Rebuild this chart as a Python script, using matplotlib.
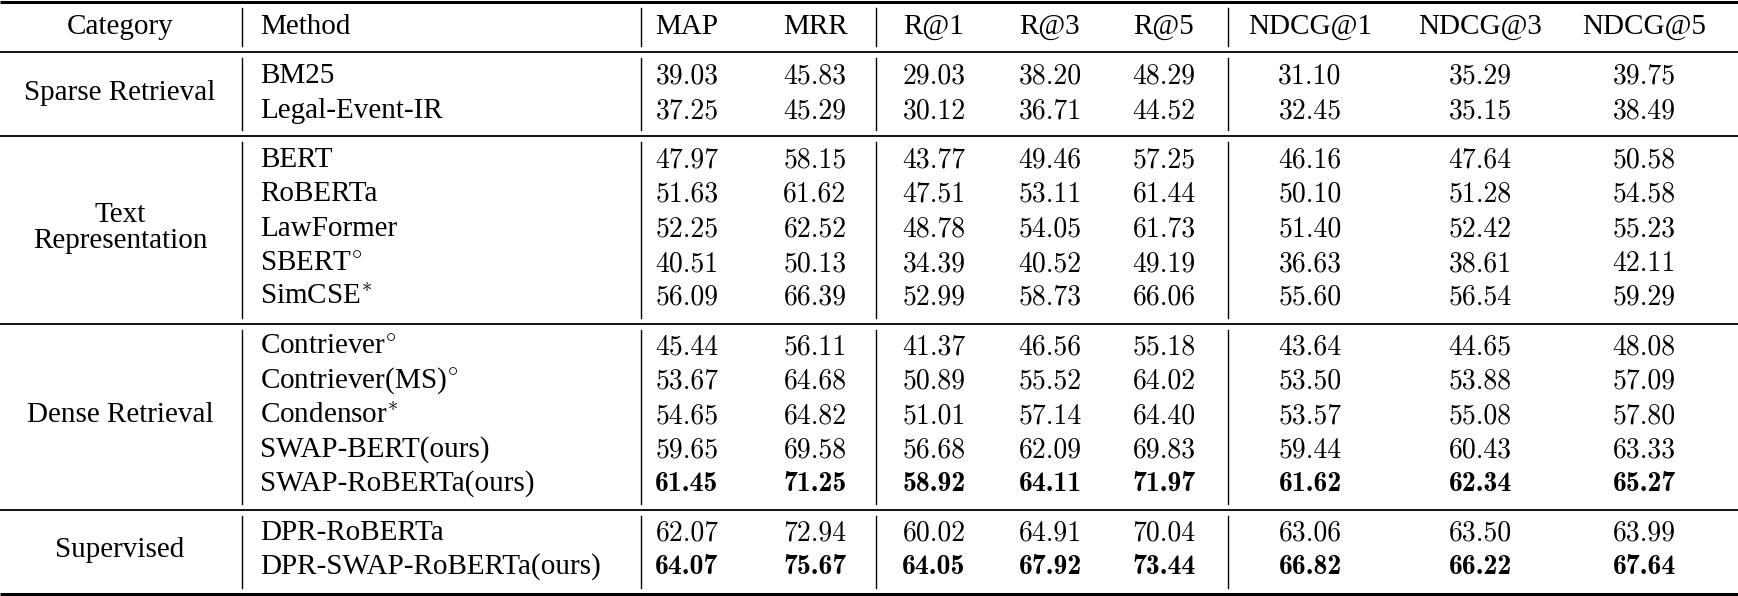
import matplotlib
matplotlib.use("Agg")
import matplotlib.pyplot as plt

plt.rcParams['mathtext.fontset'] = 'cm'
plt.rcParams['font.family'] = ['Liberation Serif', 'DejaVu Serif']

headers = ["MAP", "MRR", "R@1", "R@3", "R@5", "NDCG@1", "NDCG@3", "NDCG@5"]
categories = ["Sparse Retrieval", "Text\nRepresentation", "Dense Retrieval", "Supervised"]
group_sizes = [2, 5, 5, 2]
methods = ["BM25", "Legal-Event-IR", "BERT", "RoBERTa", "LawFormer", "SBERT$^{\\circ}$", "SimCSE$^{*}$",
           "Contriever$^{\\circ}$", "Contriever(MS)$^{\\circ}$", "Condensor$^{*}$", "SWAP-BERT(ours)",
           "SWAP-RoBERTa(ours)", "DPR-RoBERTa", "DPR-SWAP-RoBERTa(ours)"]
values = [
    [39.03, 45.83, 29.03, 38.20, 48.29, 31.10, 35.29, 39.75],
    [37.25, 45.29, 30.12, 36.71, 44.52, 32.45, 35.15, 38.49],
    [47.97, 58.15, 43.77, 49.46, 57.25, 46.16, 47.64, 50.58],
    [51.63, 61.62, 47.51, 53.11, 61.44, 50.10, 51.28, 54.58],
    [52.25, 62.52, 48.78, 54.05, 61.73, 51.40, 52.42, 55.23],
    [40.51, 50.13, 34.39, 40.52, 49.19, 36.63, 38.61, 42.11],
    [56.09, 66.39, 52.99, 58.73, 66.06, 55.60, 56.54, 59.29],
    [45.44, 56.11, 41.37, 46.56, 55.18, 43.64, 44.65, 48.08],
    [53.67, 64.68, 50.89, 55.52, 64.02, 53.50, 53.88, 57.09],
    [54.65, 64.82, 51.01, 57.14, 64.40, 53.57, 55.08, 57.80],
    [59.65, 69.58, 56.68, 62.09, 69.83, 59.44, 60.43, 63.33],
    [61.45, 71.25, 58.92, 64.11, 71.97, 61.62, 62.34, 65.27],
    [62.07, 72.94, 60.02, 64.91, 70.04, 63.06, 63.50, 63.99],
    [64.07, 75.67, 64.05, 67.92, 73.44, 66.82, 66.22, 67.64],
]
bold_rows = {11, 13}

W, H = 1738, 596
fig = plt.figure(figsize=(W/100, H/100), dpi=100)
ax = fig.add_axes([0, 0, 1, 1])
ax.set_xlim(0, W); ax.set_ylim(H, 0); ax.axis('off')

fs = 21
col_x = [687, 815, 934, 1050, 1164, 1310, 1480, 1644]
cat_x, meth_x = 120, 260
seps = [242, 641, 876, 1228]
header_y = 27
row_y = [76, 111, 160, 194, 229, 264, 297, 347, 381, 416, 450, 484, 533, 567]
rules = [(2, 2.2), (52, 1.3), (136, 1.3), (324, 1.3), (510, 1.3), (594, 2.2)]

for y, lw in rules:
    ax.plot([0, W], [y, y], color='black', lw=lw, solid_capstyle='butt')

ax.text(cat_x, header_y, "Category", ha='center', va='center', fontsize=fs)
ax.text(meth_x, header_y, "Method", ha='left', va='center', fontsize=fs)
for x, h in zip(col_x, headers):
    ax.text(x, header_y, h, ha='center', va='center', fontsize=fs)

segs = [(8, 46), (58, 130), (142, 318), (330, 504), (516, 588)]
for x in seps:
    for a, b in segs:
        ax.plot([x, x], [a, b], color='black', lw=1.0)

start = 0
for cat, n in zip(categories, group_sizes):
    yc = (row_y[start] + row_y[start + n - 1]) / 2
    ax.text(cat_x, yc, cat, ha='center', va='center', fontsize=fs, linespacing=1.0)
    start += n

for i, (m, vals) in enumerate(zip(methods, values)):
    y = row_y[i]
    ax.text(meth_x, y, m, ha='left', va='center', fontsize=fs)
    for x, v in zip(col_x, vals):
        fam = 'cmb10' if i in bold_rows else 'cmr10'
        ax.text(x, y, f"{v:.2f}", ha='center', va='center', fontsize=fs - 1, family=fam)

fig.savefig("out.png", dpi=100)
